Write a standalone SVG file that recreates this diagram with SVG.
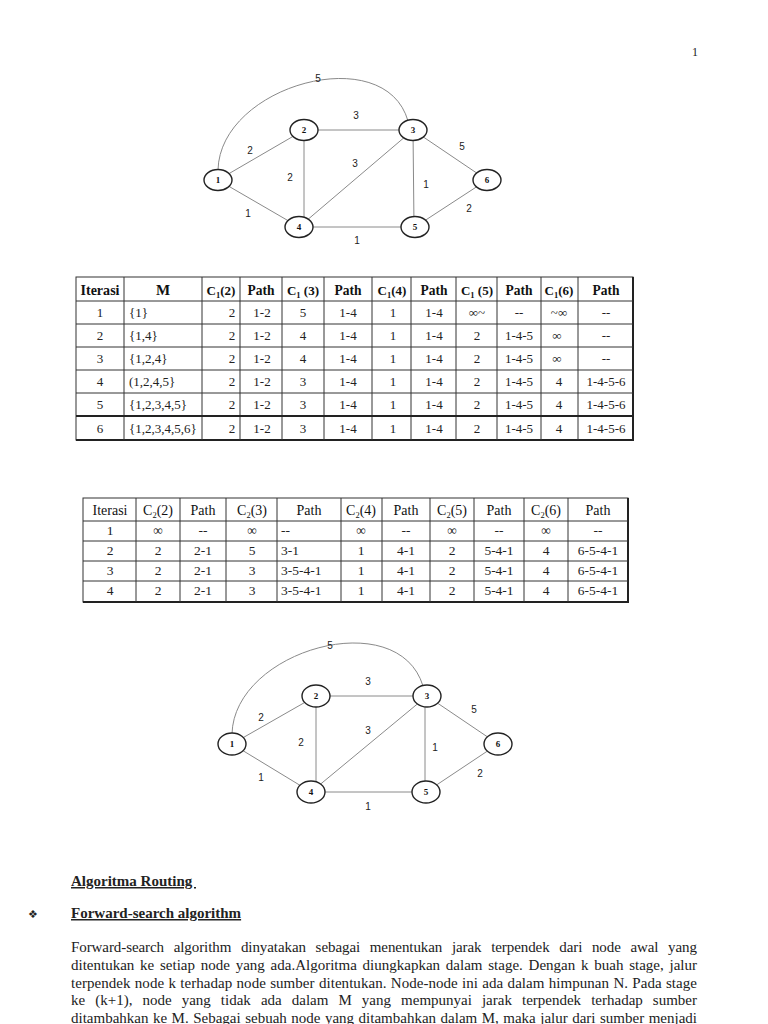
<svg xmlns="http://www.w3.org/2000/svg" width="768" height="1024" viewBox="0 0 768 1024">
<style>
.edge{stroke:#8a8a8a;stroke-width:1;fill:none}
.node ellipse{fill:#fff;stroke:#222;stroke-width:1.4}
.node text{font-family:"Liberation Serif",serif;font-size:9px;font-weight:bold;text-anchor:middle;fill:#111}
.el{font-family:"Liberation Sans",sans-serif;font-size:10px;fill:#222;text-anchor:middle}
.grid{stroke:#333;stroke-width:1;fill:none}
.thick{stroke:#222;stroke-width:2;fill:none}
.th{font-family:"Liberation Serif",serif;font-size:15px;font-weight:bold;fill:#111;text-anchor:middle}
.thc{font-family:"Liberation Serif",serif;font-size:13px;font-weight:bold;fill:#111;text-anchor:middle}
.td{font-family:"Liberation Serif",serif;font-size:13px;fill:#222;text-anchor:middle}
.th2{font-family:"Liberation Serif",serif;font-size:14px;fill:#111;text-anchor:middle}
.td2{font-family:"Liberation Serif",serif;font-size:13.5px;fill:#222;text-anchor:middle}
.sub{font-size:8.5px}
text.tl{text-anchor:start}
.body{font-family:"Liberation Serif",serif;font-size:15px;fill:#222}
.head{font-family:"Liberation Serif",serif;font-size:15px;font-weight:bold;fill:#222;text-decoration:underline}
</style>

<text x="692" y="56" style="font-family:'Liberation Serif',serif;font-size:12px;fill:#222">1</text>

<!-- Graph 1 -->
<g id="graph1">
<g id="g1-edges">
<path class="edge" d="M218 170 C220 85 385 40 408 121"/>
<line class="edge" x1="218" y1="180" x2="304" y2="130"/>
<line class="edge" x1="218" y1="180" x2="299" y2="227"/>
<line class="edge" x1="304" y1="130" x2="413" y2="130"/>
<line class="edge" x1="304" y1="130" x2="304" y2="227"/>
<line class="edge" x1="299" y1="227" x2="413" y2="130"/>
<line class="edge" x1="413" y1="130" x2="414" y2="227"/>
<line class="edge" x1="413" y1="130" x2="487" y2="180"/>
<line class="edge" x1="299" y1="227" x2="415" y2="227"/>
<line class="edge" x1="415" y1="227" x2="487" y2="180"/>
<text class="el" x="318" y="82">5</text>
<text class="el" x="356" y="119">3</text>
<text class="el" x="250" y="154">2</text>
<text class="el" x="290" y="181">2</text>
<text class="el" x="355" y="167">3</text>
<text class="el" x="462" y="150">5</text>
<text class="el" x="426" y="188">1</text>
<text class="el" x="469" y="212">2</text>
<text class="el" x="248" y="217">1</text>
<text class="el" x="357" y="244">1</text>
</g>
<g id="g1-n1" class="node"><ellipse cx="218" cy="180" rx="14" ry="10.5"/><text x="218" y="183">1</text></g>
<g id="g1-n2" class="node"><ellipse cx="304" cy="130" rx="14" ry="10.5"/><text x="304" y="133">2</text></g>
<g id="g1-n3" class="node"><ellipse cx="413" cy="130" rx="14" ry="10.5"/><text x="413" y="133">3</text></g>
<g id="g1-n4" class="node"><ellipse cx="299" cy="227" rx="14" ry="10.5"/><text x="299" y="230">4</text></g>
<g id="g1-n5" class="node"><ellipse cx="415" cy="227" rx="14" ry="10.5"/><text x="415" y="230">5</text></g>
<g id="g1-n6" class="node"><ellipse cx="487" cy="180" rx="14" ry="10.5"/><text x="487" y="183">6</text></g>
</g>

<!-- Table 1 -->
<g id="table1">
<rect class="grid" x="76" y="277" width="557" height="163"/>
<line class="thick" x1="633" y1="277" x2="633" y2="441"/>
<line class="thick" x1="76" y1="440" x2="634" y2="440"/>
<g class="grid">
<line x1="76" y1="301" x2="633" y2="301"/>
<line x1="76" y1="324" x2="633" y2="324"/>
<line x1="76" y1="347" x2="633" y2="347"/>
<line x1="76" y1="370" x2="633" y2="370"/>
<line x1="76" y1="393" x2="633" y2="393"/>
<line x1="124" y1="277" x2="124" y2="440"/>
<line x1="202" y1="277" x2="202" y2="440"/>
<line x1="240" y1="277" x2="240" y2="440"/>
<line x1="282" y1="277" x2="282" y2="440"/>
<line x1="324" y1="277" x2="324" y2="440"/>
<line x1="372" y1="277" x2="372" y2="440"/>
<line x1="411" y1="277" x2="411" y2="440"/>
<line x1="456" y1="277" x2="456" y2="440"/>
<line x1="497" y1="277" x2="497" y2="440"/>
<line x1="541" y1="277" x2="541" y2="440"/>
<line x1="578" y1="277" x2="578" y2="440"/>
</g>
<line class="thick" x1="76" y1="416" x2="633" y2="416"/>
<text class="th" x="100" y="295" textLength="39" lengthAdjust="spacingAndGlyphs">Iterasi</text>
<text class="th" x="163" y="295">M</text>
<text class="thc" x="221" y="295">C<tspan class="sub" dy="3">1</tspan><tspan dy="-3">(2)</tspan></text>
<text class="th" x="261" y="295" textLength="27" lengthAdjust="spacingAndGlyphs">Path</text>
<text class="thc" x="303" y="295">C<tspan class="sub" dy="3">1</tspan><tspan dy="-3"> (3)</tspan></text>
<text class="th" x="348" y="295" textLength="27" lengthAdjust="spacingAndGlyphs">Path</text>
<text class="thc" x="392" y="295">C<tspan class="sub" dy="3">1</tspan><tspan dy="-3">(4)</tspan></text>
<text class="th" x="434" y="295" textLength="27" lengthAdjust="spacingAndGlyphs">Path</text>
<text class="thc" x="477" y="295">C<tspan class="sub" dy="3">1</tspan><tspan dy="-3"> (5)</tspan></text>
<text class="th" x="519" y="295" textLength="27" lengthAdjust="spacingAndGlyphs">Path</text>
<text class="thc" x="559" y="295">C<tspan class="sub" dy="3">1</tspan><tspan dy="-3">(6)</tspan></text>
<text class="th" x="606" y="295" textLength="27" lengthAdjust="spacingAndGlyphs">Path</text>

<text class="td" x="100" y="317">1</text><text class="td tl" x="129" y="317">{1}</text><text class="td" x="232" y="317">2</text><text class="td" x="262" y="317">1-2</text><text class="td" x="303" y="317">5</text><text class="td" x="348" y="317">1-4</text><text class="td" x="393" y="317">1</text><text class="td" x="434" y="317">1-4</text><text class="td" x="477" y="317">∞~</text><text class="td" x="519" y="317">--</text><text class="td" x="559" y="317">~∞</text><text class="td" x="606" y="317">--</text>

<text class="td" x="100" y="340">2</text><text class="td tl" x="129" y="340">{1,4}</text><text class="td" x="232" y="340">2</text><text class="td" x="262" y="340">1-2</text><text class="td" x="303" y="340">4</text><text class="td" x="348" y="340">1-4</text><text class="td" x="393" y="340">1</text><text class="td" x="434" y="340">1-4</text><text class="td" x="477" y="340">2</text><text class="td" x="519" y="340">1-4-5</text><text class="td" x="557" y="340">∞</text><text class="td" x="606" y="340">--</text>

<text class="td" x="100" y="363">3</text><text class="td tl" x="129" y="363">{1,2,4}</text><text class="td" x="232" y="363">2</text><text class="td" x="262" y="363">1-2</text><text class="td" x="303" y="363">4</text><text class="td" x="348" y="363">1-4</text><text class="td" x="393" y="363">1</text><text class="td" x="434" y="363">1-4</text><text class="td" x="477" y="363">2</text><text class="td" x="519" y="363">1-4-5</text><text class="td" x="557" y="363">∞</text><text class="td" x="606" y="363">--</text>

<text class="td" x="100" y="386">4</text><text class="td tl" x="129" y="386">(1,2,4,5}</text><text class="td" x="232" y="386">2</text><text class="td" x="262" y="386">1-2</text><text class="td" x="303" y="386">3</text><text class="td" x="348" y="386">1-4</text><text class="td" x="393" y="386">1</text><text class="td" x="434" y="386">1-4</text><text class="td" x="477" y="386">2</text><text class="td" x="519" y="386">1-4-5</text><text class="td" x="559" y="386">4</text><text class="td" x="606" y="386">1-4-5-6</text>

<text class="td" x="100" y="409">5</text><text class="td tl" x="129" y="409">{1,2,3,4,5}</text><text class="td" x="232" y="409">2</text><text class="td" x="262" y="409">1-2</text><text class="td" x="303" y="409">3</text><text class="td" x="348" y="409">1-4</text><text class="td" x="393" y="409">1</text><text class="td" x="434" y="409">1-4</text><text class="td" x="477" y="409">2</text><text class="td" x="519" y="409">1-4-5</text><text class="td" x="559" y="409">4</text><text class="td" x="606" y="409">1-4-5-6</text>

<text class="td" x="100" y="433">6</text><text class="td tl" x="129" y="433">{1,2,3,4,5,6}</text><text class="td" x="232" y="433">2</text><text class="td" x="262" y="433">1-2</text><text class="td" x="303" y="433">3</text><text class="td" x="348" y="433">1-4</text><text class="td" x="393" y="433">1</text><text class="td" x="434" y="433">1-4</text><text class="td" x="477" y="433">2</text><text class="td" x="519" y="433">1-4-5</text><text class="td" x="559" y="433">4</text><text class="td" x="606" y="433">1-4-5-6</text>
</g>

<!-- Table 2 -->
<g id="table2">
<rect class="grid" x="83" y="498" width="545" height="104"/>
<line class="thick" x1="628" y1="498" x2="628" y2="603"/>
<line class="thick" x1="83" y1="602" x2="629" y2="602"/>
<g class="grid">
<line x1="83" y1="521" x2="628" y2="521"/>
<line x1="83" y1="541" x2="628" y2="541"/>
<line x1="83" y1="561" x2="628" y2="561"/>
<line x1="83" y1="581" x2="628" y2="581"/>
<line x1="136" y1="498" x2="136" y2="602"/>
<line x1="180" y1="498" x2="180" y2="602"/>
<line x1="226" y1="498" x2="226" y2="602"/>
<line x1="277" y1="498" x2="277" y2="602"/>
<line x1="341" y1="498" x2="341" y2="602"/>
<line x1="382" y1="498" x2="382" y2="602"/>
<line x1="430" y1="498" x2="430" y2="602"/>
<line x1="474" y1="498" x2="474" y2="602"/>
<line x1="524" y1="498" x2="524" y2="602"/>
<line x1="568" y1="498" x2="568" y2="602"/>
</g>
<text class="th2" x="110" y="515">Iterasi</text>
<text class="th2" x="158" y="515">C<tspan class="sub" dy="3">2</tspan><tspan dy="-3">(2)</tspan></text>
<text class="th2" x="203" y="515">Path</text>
<text class="th2" x="252" y="515">C<tspan class="sub" dy="3">2</tspan><tspan dy="-3">(3)</tspan></text>
<text class="th2" x="309" y="515">Path</text>
<text class="th2" x="361" y="515">C<tspan class="sub" dy="3">2</tspan><tspan dy="-3">(4)</tspan></text>
<text class="th2" x="406" y="515">Path</text>
<text class="th2" x="452" y="515">C<tspan class="sub" dy="3">2</tspan><tspan dy="-3">(5)</tspan></text>
<text class="th2" x="499" y="515">Path</text>
<text class="th2" x="546" y="515">C<tspan class="sub" dy="3">2</tspan><tspan dy="-3">(6)</tspan></text>
<text class="th2" x="598" y="515">Path</text>

<text class="td2" x="110" y="535">1</text><text class="td2" x="158" y="535">∞</text><text class="td2" x="203" y="535">--</text><text class="td2" x="252" y="535">∞</text><text class="td2 tl" x="281" y="535">--</text><text class="td2" x="361" y="535">∞</text><text class="td2" x="406" y="535">--</text><text class="td2" x="452" y="535">∞</text><text class="td2" x="499" y="535">--</text><text class="td2" x="546" y="535">∞</text><text class="td2" x="598" y="535">--</text>

<text class="td2" x="110" y="555">2</text><text class="td2" x="158" y="555">2</text><text class="td2" x="203" y="555">2-1</text><text class="td2" x="252" y="555">5</text><text class="td2 tl" x="281" y="555">3-1</text><text class="td2" x="361" y="555">1</text><text class="td2" x="406" y="555">4-1</text><text class="td2" x="452" y="555">2</text><text class="td2" x="499" y="555">5-4-1</text><text class="td2" x="546" y="555">4</text><text class="td2" x="598" y="555">6-5-4-1</text>

<text class="td2" x="110" y="575">3</text><text class="td2" x="158" y="575">2</text><text class="td2" x="203" y="575">2-1</text><text class="td2" x="252" y="575">3</text><text class="td2 tl" x="281" y="575">3-5-4-1</text><text class="td2" x="361" y="575">1</text><text class="td2" x="406" y="575">4-1</text><text class="td2" x="452" y="575">2</text><text class="td2" x="499" y="575">5-4-1</text><text class="td2" x="546" y="575">4</text><text class="td2" x="598" y="575">6-5-4-1</text>

<text class="td2" x="110" y="595">4</text><text class="td2" x="158" y="595">2</text><text class="td2" x="203" y="595">2-1</text><text class="td2" x="252" y="595">3</text><text class="td2 tl" x="281" y="595">3-5-4-1</text><text class="td2" x="361" y="595">1</text><text class="td2" x="406" y="595">4-1</text><text class="td2" x="452" y="595">2</text><text class="td2" x="499" y="595">5-4-1</text><text class="td2" x="546" y="595">4</text><text class="td2" x="598" y="595">6-5-4-1</text>
</g>

<!-- Graph 2 -->
<g id="graph2">
<g id="g2-edges">
<path class="edge" d="M232 734 C234 650 398 604 423 686"/>
<line class="edge" x1="232" y1="744" x2="316" y2="696"/>
<line class="edge" x1="232" y1="744" x2="311" y2="792"/>
<line class="edge" x1="316" y1="696" x2="427" y2="696"/>
<line class="edge" x1="316" y1="696" x2="316" y2="792"/>
<line class="edge" x1="311" y1="792" x2="427" y2="696"/>
<line class="edge" x1="425" y1="696" x2="425" y2="792"/>
<line class="edge" x1="427" y1="696" x2="498" y2="744"/>
<line class="edge" x1="311" y1="792" x2="426" y2="792"/>
<line class="edge" x1="426" y1="792" x2="498" y2="744"/>
<text class="el" x="330" y="649">5</text>
<text class="el" x="368" y="685">3</text>
<text class="el" x="261" y="721">2</text>
<text class="el" x="301" y="746">2</text>
<text class="el" x="368" y="734">3</text>
<text class="el" x="474" y="713">5</text>
<text class="el" x="435" y="751">1</text>
<text class="el" x="480" y="777">2</text>
<text class="el" x="261" y="781">1</text>
<text class="el" x="368" y="810">1</text>
</g>
<g id="g2-n1" class="node"><ellipse cx="232" cy="744" rx="14" ry="11"/><text x="232" y="747">1</text></g>
<g id="g2-n2" class="node"><ellipse cx="316" cy="696" rx="14" ry="11"/><text x="316" y="699">2</text></g>
<g id="g2-n3" class="node"><ellipse cx="427" cy="696" rx="14" ry="11"/><text x="427" y="699">3</text></g>
<g id="g2-n4" class="node"><ellipse cx="311" cy="792" rx="14" ry="11"/><text x="311" y="795">4</text></g>
<g id="g2-n5" class="node"><ellipse cx="426" cy="792" rx="14" ry="11"/><text x="426" y="795">5</text></g>
<g id="g2-n6" class="node"><ellipse cx="498" cy="744" rx="14" ry="11"/><text x="498" y="747">6</text></g>
</g>

<!-- Text -->
<text class="head" x="71" y="886" xml:space="preserve">Algoritma Routing </text>
<text x="28" y="918" style="font-family:'DejaVu Sans',sans-serif;font-size:11px;fill:#222">❖</text>
<text class="head" x="71" y="918">Forward-search algorithm</text>
<text class="body" x="71" y="952" word-spacing="6" textLength="626" lengthAdjust="spacing">Forward-search algorithm dinyatakan sebagai menentukan jarak terpendek dari node awal yang</text>
<text class="body" x="71" y="970" word-spacing="2" textLength="626" lengthAdjust="spacing">ditentukan ke setiap node yang ada.Algoritma diungkapkan dalam stage. Dengan k buah stage, jalur</text>
<text class="body" x="71" y="988" word-spacing="0.5" textLength="626" lengthAdjust="spacing">terpendek  node k terhadap node sumber ditentukan. Node-node ini ada dalam himpunan N. Pada stage</text>
<text class="body" x="71" y="1005" word-spacing="6.3" textLength="626" lengthAdjust="spacing">ke (k+1), node yang tidak ada dalam M yang mempunyai jarak terpendek terhadap sumber</text>
<text class="body" x="71" y="1023" word-spacing="0.7" textLength="626" lengthAdjust="spacing">ditambahkan ke M. Sebagai sebuah node yang ditambahkan dalam M, maka jalur dari sumber menjadi</text>
</svg>
